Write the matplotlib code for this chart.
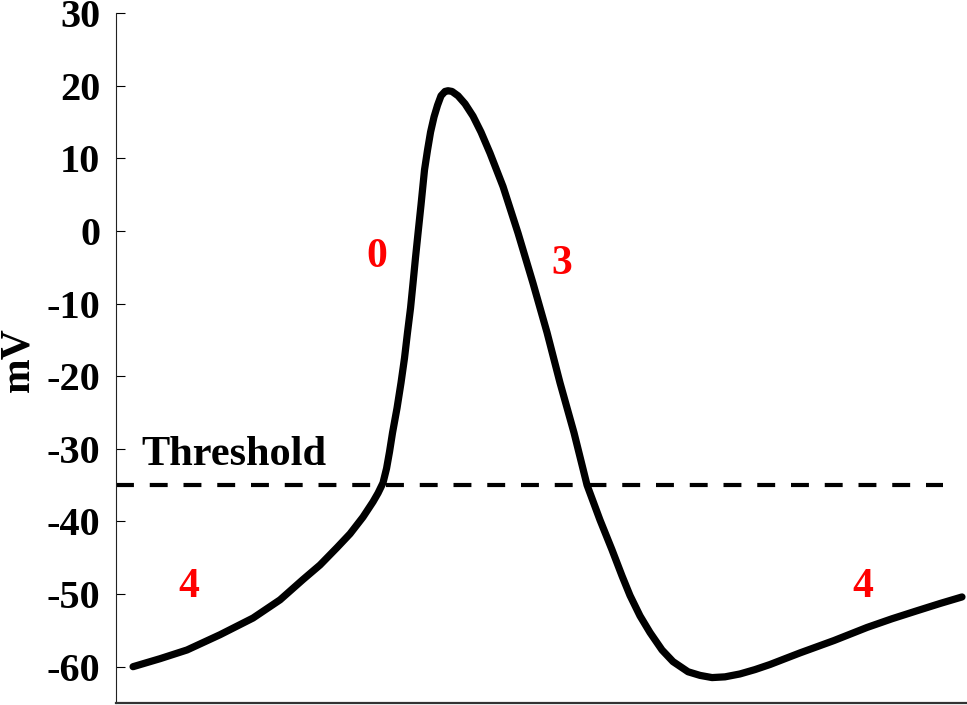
import matplotlib
matplotlib.use("Agg")
import matplotlib.pyplot as plt

# action potential trace (time in arbitrary units, mV)
t = [2.00, 5.17, 8.34, 12.22, 16.10, 19.27, 21.97, 23.97, 25.97, 27.50,
     29.02, 30.20, 30.79, 31.37, 31.79, 32.14, 32.49, 33.02, 33.49, 33.90,
     34.25, 34.61, 34.90, 35.19, 35.49, 35.84, 36.25, 36.60, 36.96, 37.37,
     37.78, 38.19, 38.66, 39.01, 39.48, 40.19, 41.01, 41.95, 42.89, 43.95,
     45.48, 47.24, 49.00, 50.65, 52.17, 53.82, 55.35, 56.87, 58.28, 59.46,
     60.40, 61.57, 62.75, 64.16, 65.45, 67.22, 68.63, 70.04, 71.56, 73.32,
     75.09, 76.85, 78.61, 80.38, 84.37, 88.25, 91.19, 94.12, 96.83, 99.41]
mv = [-60.0, -58.9, -57.7, -55.6, -53.3, -50.8, -48.0, -46.0, -43.6, -41.7,
      -39.4, -37.3, -36.1, -34.7, -32.7, -30.4, -27.8, -24.4, -20.9, -17.5,
      -14.0, -10.6, -7.2, -3.7, -0.3, 3.6, 8.4, 11.1, 13.6, 15.7,
      17.3, 18.6, 19.2, 19.3, 19.2, 18.6, 17.5, 15.8, 13.6, 10.7,
      6.1, -0.3, -7.2, -14.0, -20.9, -27.8, -35.0, -39.8, -43.9, -47.5,
      -50.2, -53.0, -55.3, -57.7, -59.3, -60.7, -61.2, -61.5, -61.4, -61.0,
      -60.4, -59.7, -58.9, -58.1, -56.4, -54.6, -53.4, -52.3, -51.3, -50.4]

threshold = -35
yticks = [-60, -50, -40, -30, -20, -10, 0, 10, 20, 30]

# phase labels
phase_txt = ["0", "3", "4", "4"]
phase_x = [30.6, 52.4, 8.5, 87.7]
phase_y = [-3.6, -4.6, -49.0, -49.0]

plt.rcParams['font.family'] = ['Liberation Serif', 'DejaVu Serif']
plt.rcParams['font.weight'] = 'bold'

fig = plt.figure(figsize=(9.67, 7.05), dpi=100)
ax = fig.add_axes([0.12, 0.00284, 0.88, 0.97872])

ax.plot(t, mv, color='black', lw=5.2, solid_capstyle='round', solid_joinstyle='round')
ax.hlines(threshold, 0, 97.2, colors='black', lw=3, linestyles=(0, (4.3, 3.8)))
ax.text(3.0, -30.9, "Threshold", fontsize=30.5, fontweight='bold', color='black',
        va='center', ha='left')

for s, x, y in zip(phase_txt, phase_x, phase_y):
    ax.text(x, y, s, color='red', fontsize=30, fontweight='bold', ha='center', va='center')

ax.set_xlim(0, 100)
ax.set_ylim(-65, 30)
ax.set_yticks(yticks)
ax.set_yticklabels([str(v) for v in yticks])
ax.set_xticks([])
ax.tick_params(axis='y', direction='in', length=6.5, width=0.8, pad=11.5,
               labelsize=29, colors='black')
for lab in ax.get_yticklabels():
    lab.set_fontweight('bold')

ax.spines['top'].set_visible(False)
ax.spines['right'].set_visible(False)
ax.spines['left'].set_linewidth(0.8)
ax.spines['left'].set_color('#222222')
ax.spines['bottom'].set_linewidth(1.6)
ax.spines['bottom'].set_color('#333333')

# y label placed by hand so it sits right at the left edge like the original
fig.text(18 / 967, 1 - 360 / 705, "mV", rotation=90, fontsize=30, fontweight='bold',
         ha='center', va='center')

fig.savefig("out.png", dpi=100)
